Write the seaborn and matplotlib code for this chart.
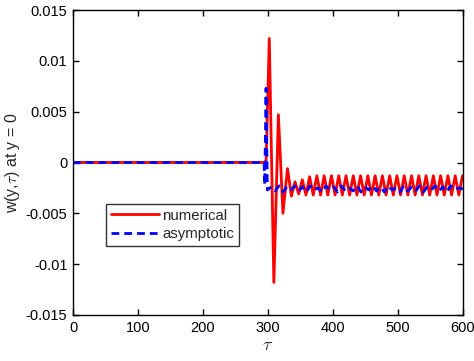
import numpy as np
import pandas as pd
import matplotlib
matplotlib.use("Agg")
import matplotlib.pyplot as plt
import seaborn as sns

# numerical solution: turning points
tau_num = [0, 297, 302, 309, 316, 323, 330, 336,
           341.6, 347.2, 352.8, 358.4, 364.0, 369.6, 375.2, 380.8, 386.4, 392.0,
           397.6, 403.2, 408.8, 414.4, 420.0, 425.6, 431.2, 436.8, 442.4, 448.0,
           453.6, 459.2, 464.8, 470.4, 476.0, 481.6, 487.2, 492.8, 498.4, 504.0,
           509.6, 515.2, 520.8, 526.4, 532.0, 537.6, 543.2, 548.8, 554.4, 560.0,
           565.6, 571.2, 576.8, 582.4, 588.0, 593.6, 599.2, 600]
w_num = [0, 0, 0.0122, -0.0118, 0.0047, -0.0050, -0.0006, -0.0033,
         -0.0019, -0.0031, -0.0017, -0.0032, -0.0014, -0.0032, -0.0013, -0.0032, -0.0013, -0.0032,
         -0.0013, -0.0032, -0.0013, -0.0032, -0.0013, -0.0032, -0.0013, -0.0032, -0.0013, -0.0032,
         -0.0013, -0.0032, -0.0013, -0.0032, -0.0013, -0.0032, -0.0013, -0.0032, -0.0013, -0.0032,
         -0.0013, -0.0032, -0.0013, -0.0032, -0.0013, -0.0032, -0.0013, -0.0032, -0.0013, -0.0032,
         -0.0013, -0.0032, -0.0013, -0.0032, -0.0013, -0.0032, -0.0013, -0.0015]

# asymptotic solution
tau_asy = [0, 294, 295, 297, 299,
           305, 311, 317, 323, 329, 335, 341, 347, 353, 359, 365, 371, 377, 383,
           389, 395, 401, 407, 413, 419, 425, 431, 437, 443, 449, 455, 461, 467,
           473, 479, 485, 491, 497, 503, 509, 515, 521, 527, 533, 539, 545, 551,
           557, 563, 569, 575, 581, 587, 593, 600]
w_asy = [0, 0, -0.0022, 0.0073, -0.0027,
         -0.0024, -0.0028, -0.0023, -0.0029, -0.0024, -0.0027, -0.0023, -0.0028, -0.0024, -0.0029,
         -0.0023, -0.0027, -0.0025, -0.0029, -0.0023, -0.0027, -0.0024, -0.0029, -0.0023, -0.0028,
         -0.0025, -0.0028, -0.0023, -0.0029, -0.0024, -0.0027, -0.0023, -0.0028, -0.0024, -0.0029,
         -0.0023, -0.0027, -0.0025, -0.0029, -0.0023, -0.0028, -0.0024, -0.0028, -0.0023, -0.0029,
         -0.0024, -0.0027, -0.0023, -0.0028, -0.0024, -0.0029, -0.0023, -0.0027, -0.0025, -0.0026]

x_ticks = [0, 100, 200, 300, 400, 500, 600]
y_ticks = [-0.015, -0.01, -0.005, 0, 0.005, 0.01, 0.015]
y_tick_labels = ["-0.015", "-0.01", "-0.005", "0", "0.005", "0.01", "0.015"]

df_num = pd.DataFrame({"tau": tau_num, "w": w_num})
df_asy = pd.DataFrame({"tau": tau_asy, "w": w_asy})

sns.set_style("ticks")
plt.rcParams["font.family"] = ["Liberation Sans", "DejaVu Sans"]
plt.rcParams["mathtext.fontset"] = "cm"

fig = plt.figure(figsize=(4.74, 3.61), dpi=100)
ax = fig.add_axes([73 / 474, 46 / 361, 390 / 474, 305 / 361])

sns.lineplot(data=df_num, x="tau", y="w", ax=ax, color="#ff0000", lw=2.0,
             label="numerical", sort=False, estimator=None)
sns.lineplot(data=df_asy, x="tau", y="w", ax=ax, color="#0000ff", lw=2.0,
             label="asymptotic", sort=False, estimator=None, dashes=False)
ax.lines[1].set_dashes((2.8, 1.8))
for ln in ax.lines:
    ln.set_solid_joinstyle("round")
    ln.set_dash_joinstyle("round")

ax.set_xlim(0, 600)
ax.set_ylim(-0.015, 0.015)
ax.set_xticks(x_ticks)
ax.set_yticks(y_ticks)
ax.set_yticklabels(y_tick_labels)
ax.tick_params(direction="in", top=True, right=True, length=4, width=1,
               labelsize=10.5, colors="black", pad=4)
for s in ax.spines.values():
    s.set_visible(True)
    s.set_linewidth(1.0)
    s.set_color("black")

ax.set_xlabel(r"$\tau$", fontsize=13, labelpad=2)
ax.set_ylabel(r"w(y,$\tau$) at y = 0", fontsize=11.5, labelpad=3)

leg = ax.legend(loc="upper left", bbox_to_anchor=(33 / 390, 111 / 305),
                fontsize=10.8, handlelength=3.2, handletextpad=0.25,
                frameon=True, fancybox=False, borderpad=0.3,
                labelspacing=0.3, borderaxespad=0)
leg.get_frame().set_edgecolor("black")
leg.get_frame().set_linewidth(1.0)
leg.get_lines()[1].set_dashes((2.8, 1.8))

fig.savefig("out.png", dpi=100)
